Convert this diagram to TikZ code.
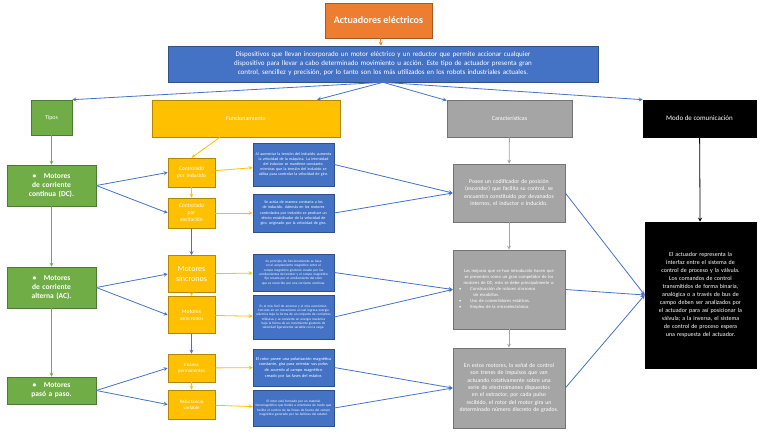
\documentclass[tikz,border=0pt]{standalone}
\usepackage{fontspec}
\setmainfont{Carlito}
\usetikzlibrary{positioning}
\definecolor{naranja}{RGB}{237,125,49}
\definecolor{azul}{RGB}{68,114,196}
\definecolor{verde}{RGB}{112,173,71}
\definecolor{amarillo}{RGB}{255,192,0}
\definecolor{gris}{RGB}{165,165,165}
\hyphenpenalty=10000
\exhyphenpenalty=10000
\begin{document}
\begin{tikzpicture}
[x=1pt,y=-1pt,every node/.style={font=\tiny,text=white,align=center,inner sep=1pt},
  caja/.style = {draw=#1!70!black,fill=#1,line width=0.6pt},
  flecha/.style = {-stealth,draw=#1,line width=0.8pt}]
\useasboundingbox (0,0) rectangle (768,433);
\node[caja=naranja,minimum width=107pt,minimum height=35pt,font=\fontsize{10}{12}\selectfont\bfseries] (titulo) at (378.5,20.5) {Actuadores eléctricos};
\node[caja=azul,minimum width=430pt,minimum height=36pt,text width=418pt,font=\fontsize{7}{9}\selectfont] (desc) at (383,64) {Dispositivos que llevan incorporado un motor eléctrico y un reductor que permite accionar cualquier dispositivo para llevar a cabo determinado movimiento u acción. Este tipo de actuador presenta gran control, sencillez y precisión, por lo tanto son los más utilizados en los robots industriales actuales.};
%
\node[caja=verde,minimum width=41pt,minimum height=35pt,font=\fontsize{6}{7}\selectfont] (tipos) at (51.5,117.5) {Tipos};
\node[caja=amarillo,minimum width=188pt,minimum height=37pt,font=\fontsize{6}{7}\selectfont] (func) at (246,118.5) {Funcionamiento};
\node[caja=gris,minimum width=125pt,minimum height=37pt,font=\fontsize{6}{7}\selectfont] (carac) at (509.5,118.5) {Características};
\node[caja=black,minimum width=113pt,minimum height=37pt,font=\fontsize{7}{8}\selectfont] (modo) at (699.5,118.5) {Modo de comunicación};
%
\node[caja=verde,minimum width=89pt,minimum height=41pt,text width=62pt,font=\fontsize{7.5}{9}\selectfont\bfseries] (dc) at (51.5,185.5) {\textbullet\quad Motores de corriente continua (DC).};
\node[caja=verde,minimum width=89pt,minimum height=41pt,text width=70pt,font=\fontsize{7.5}{9}\selectfont\bfseries] (ac) at (51.5,287.5) {\textbullet\quad Motores de corriente alterna (AC).};
\node[caja=verde,minimum width=89pt,minimum height=27pt,text width=70pt,font=\fontsize{7.5}{9}\selectfont\bfseries] (paso) at (51.5,390.5) {\textbullet\quad Motores pasó a paso.};
%
\node[caja=amarillo,minimum width=47pt,minimum height=29pt,text width=40pt,font=\fontsize{5.5}{7}\selectfont] (ind) at (191.5,172.5) {Controlado por inducido};
\node[caja=amarillo,minimum width=47pt,minimum height=30pt,text width=30pt,font=\fontsize{5.5}{7}\selectfont] (exc) at (191.5,213) {Controlado por excitación};
\node[caja=amarillo,minimum width=47pt,minimum height=37pt,text width=44pt,font=\fontsize{8}{10}\selectfont] (sin) at (191.5,274) {Motores síncronos};
\node[caja=amarillo,minimum width=47pt,minimum height=37pt,text width=36pt,font=\fontsize{5.5}{7}\selectfont] (asin) at (191.5,315) {Motores asíncronos};
\node[caja=amarillo,minimum width=47pt,minimum height=28pt,text width=36pt,font=\fontsize{5}{6}\selectfont] (iman) at (191.5,368) {Imanes permanentes};
\node[caja=amarillo,minimum width=47pt,minimum height=29pt,text width=36pt,font=\fontsize{5}{6}\selectfont] (rel) at (191.5,404.5) {Reluctancia variable};
%
\node[caja=azul,minimum width=81pt,minimum height=43pt,text width=76pt,font=\fontsize{4}{5.2}\selectfont] (bind) at (293.5,164.5) {Al aumentar la tensión del inducido aumenta la velocidad de la máquina. La intensidad del inductor se mantiene constante, mientras que la tensión del inducido se utiliza para controlar la velocidad de giro.};
\node[caja=azul,minimum width=81pt,minimum height=38pt,text width=76pt,font=\fontsize{4}{5.2}\selectfont] (bexc) at (293.5,213) {Se actúa de manera contraria a los de inducido. Además en los motores controlados por inducido se produce un efecto estabilizador de la velocidad de giro, originado por la velocidad de giro.};
\node[caja=azul,minimum width=81pt,minimum height=37pt,text width=76pt,font=\fontsize{3.4}{4.3}\selectfont] (bsin) at (293.5,272.5) {Su principio de funcionamiento se basa en el acoplamiento magnético entre el campo magnético giratorio creado por los arrollamientos del estator y el campo magnético fijo creado por el arrollamiento del rotor que es recorrido por una corriente continua.};
\node[caja=azul,minimum width=81pt,minimum height=44pt,text width=76pt,font=\fontsize{3.4}{4.3}\selectfont] (basin) at (293.5,317) {Es el más fácil de arrancar y el más económico. Consiste en un mecanismo al cual ingresa energía eléctrica bajo la forma de un conjunto de corrientes trifásicas y se convierte en energía mecánica bajo la forma de un movimiento giratorio de velocidad ligeramente variable con la carga.};
\node[caja=azul,minimum width=81pt,minimum height=37pt,text width=76pt,font=\fontsize{4.3}{5.6}\selectfont] (biman) at (293.5,367.5) {El rotor posee una polarización magnética constante, gira para orientar sus polos de acuerdo al campo magnético creado por las fases del estator.};
\node[caja=azul,minimum width=81pt,minimum height=36pt,text width=76pt,font=\fontsize{3.4}{4.3}\selectfont] (brel) at (293.5,408) {El rotor está formado por un material ferromagnético que tiende a orientarse de modo que facilite el camino de las líneas de fuerza del campo magnético generado por las bobinas del estator.};
%
\node[caja=gris,minimum width=112pt,minimum height=58pt,text width=100pt,font=\fontsize{5.8}{7.4}\selectfont] (g1) at (509,193) {Posee un codificador de posición (esconder) que facilita su control, se encuentra constituido por devanados internos, el inductor e inducido.};
\node[caja=gris,minimum width=112pt,minimum height=79pt,text width=100pt,font=\fontsize{4.6}{6}\selectfont] (g2) at (509,289.5) {Las mejoras que se han introducido hacen que se presenten como un gran competidor de los motores de DC, esto se debe principalmente a:\\[0.5pt]
\makebox[100pt][l]{\textbullet\qquad Construcción de rotores síncronos}\\ \makebox[100pt][l]{\hspace{14pt}sin escobillas.}\\ \makebox[100pt][l]{\textbullet\qquad Uso de convertidores estáticos.}\\ \makebox[100pt][l]{\textbullet\qquad Empleo de la microelectrónica.}};
\node[caja=gris,minimum width=112pt,minimum height=80pt,text width=100pt,font=\fontsize{5.8}{7.4}\selectfont] (g3) at (509,388) {En estos motores, la señal de control son trenes de impulsos que van actuando rotativamente sobre una serie de electroimanes dispuestos en el extractor, por cada pulso recibido, el rotor del motor gira un determinado número discreto de grados.};
%
\node[caja=black,minimum width=111pt,minimum height=146pt,text width=92pt,font=\fontsize{6}{8}\selectfont] (bn) at (700.5,295) {El actuador representa la interfaz entre el sistema de control de proceso y la válvula.\\ Los comandos de control transmitidos de forma binaria, analógica o a través de bus de campo deben ser analizados por el actuador para así posicionar la válvula; a la inversa, el sistema de control de proceso espera una respuesta del actuador.};
%
\draw[flecha=naranja] (titulo) -- (desc);
\draw[flecha=azul] (desc.south) -- (tipos.north east);
\draw[flecha=azul] (desc.south) -- (func);
\draw[flecha=azul] (desc.south) -- (carac);
\draw[flecha=azul] (desc.south) -- (modo.north west);
\draw[flecha=verde] (tipos) -- (dc);
\draw[flecha=verde] (dc) -- (ac);
\draw[flecha=verde] (ac) -- (paso);
\draw[flecha=amarillo] (func) -- (ind.north);
\draw[flecha=gris] (carac) -- (g1);
\draw[flecha=black] (modo) -- (bn);
\draw[flecha=amarillo] (ind) -- (exc);
\draw[flecha=azul] (exc) -- (sin);
\draw[flecha=amarillo] (sin) -- (asin);
\draw[flecha=azul] (asin) -- (iman);
\draw[flecha=amarillo] (iman) -- (rel);
\draw[flecha=gris] (g1) -- (g2);
\draw[flecha=gris] (g2) -- (g3);
\foreach \v/\a/\b in {dc/ind/exc,ac/sin/asin,paso/iman/rel}
  {\draw[flecha=azul] (\v.east) -- (\a.west);
   \draw[flecha=azul] (\v.east) -- (\b.west);}
\foreach \a/\b in {ind/bind,exc/bexc,sin/bsin,asin/basin,iman/biman,rel/brel}
  \draw[flecha=amarillo] (\a) -- (\b);
\foreach \b/\g in {bind/g1,bexc/g1,bsin/g2,basin/g2,biman/g3,brel/g3}
  \draw[flecha=azul] (\b.east) -- (\g.west);
\foreach \g in {g1,g2,g3}
  \draw[flecha=azul] (\g.east) -- (bn.west);
\end{tikzpicture}
\end{document}
